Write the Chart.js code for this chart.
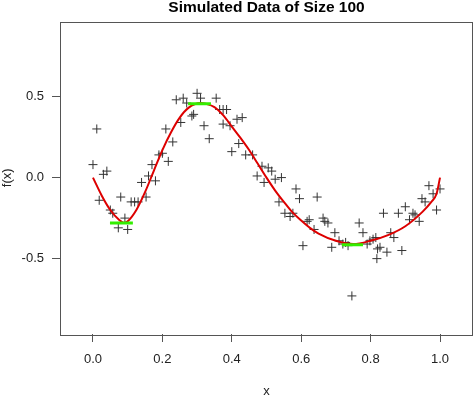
<!DOCTYPE html>
<html lang="en">

<head>
    <meta charset="UTF-8">
    <meta name="viewport" content="width=device-width, initial-scale=1.0">
    <script src="https://cdn.jsdelivr.net/npm/chart.js"></script>
    <title>Simulated Data of Size 100</title>
    <style>
        html, body { margin: 0; padding: 0; background: #fff; }
        #wrap { width: 474px; height: 395px; }
    </style>
    <script>
        // simulated sample
        let sample_x = [0.011, 0.00, 0.03, 0.04, 0.018, 0.05, 0.057, 0.08, 0.092, 0.073,
            0.10, 0.11, 0.12, 0.13, 0.153, 0.14, 0.16, 0.18, 0.17, 0.19,
            0.20, 0.217, 0.21, 0.24, 0.26, 0.27, 0.30, 0.31, 0.355, 0.285,
            0.29, 0.253, 0.23, 0.32, 0.335, 0.365, 0.375, 0.385, 0.375, 0.395,
            0.415, 0.43, 0.42, 0.40, 0.44, 0.46, 0.487, 0.505, 0.515, 0.473,
            0.493, 0.525, 0.543, 0.585, 0.595, 0.536, 0.553, 0.568, 0.576, 0.617,
            0.605, 0.646, 0.623, 0.637, 0.663, 0.668, 0.677, 0.688, 0.697, 0.709,
            0.72, 0.735, 0.767, 0.778, 0.79, 0.798, 0.807, 0.82, 0.818, 0.746,
            0.827, 0.847, 0.89, 0.858, 0.867, 0.837, 0.88, 0.90, 0.912, 0.922,
            0.928, 0.94, 0.948, 0.957, 0.968, 0.98, 1.00, 0.99, 0.728, 0.815];
        let sample_y = [0.30, 0.08, 0.02, 0.04, -0.14, -0.20, -0.22, -0.12, -0.25, -0.31,
            -0.32, -0.15, -0.15, -0.15, -0.12, -0.03, 0.01, -0.02, 0.08, 0.14,
            0.15, 0.10, 0.30, 0.48, 0.49, 0.46, 0.52, 0.49, 0.49, 0.38,
            0.39, 0.34, 0.22, 0.32, 0.24, 0.42, 0.42, 0.42, 0.33, 0.32,
            0.36, 0.37, 0.21, 0.16, 0.14, 0.14, 0.07, 0.06, 0.04, 0.01,
            -0.03, -0.01, 0.00, -0.07, -0.13, -0.15, -0.22, -0.24, -0.22, -0.27,
            -0.42, -0.12, -0.26, -0.32, -0.25, -0.27, -0.28, -0.43, -0.34, -0.39,
            -0.41, -0.42, -0.28, -0.34, -0.41, -0.39, -0.38, -0.44, -0.50, -0.73,
            -0.43, -0.46, -0.45, -0.34, -0.37, -0.22, -0.22, -0.18, -0.26, -0.22,
            -0.23, -0.27, -0.13, -0.15, -0.05, -0.10, -0.07, -0.20, -0.40, -0.37];

        // fitted curve (red)
        let fit_x = [0.00, 0.025, 0.05, 0.075, 0.09, 0.10, 0.125, 0.15, 0.175, 0.20,
            0.225, 0.25, 0.275, 0.31, 0.325, 0.35, 0.375, 0.40, 0.425, 0.45,
            0.475, 0.50, 0.525, 0.55, 0.575, 0.60, 0.625, 0.65, 0.70, 0.75,
            0.80, 0.85, 0.90, 0.95, 0.975, 0.99, 1.00];
        let fit_y = [0.00, -0.11, -0.20, -0.26, -0.28, -0.27, -0.20, -0.09, 0.04, 0.17,
            0.28, 0.37, 0.43, 0.46, 0.455, 0.435, 0.385, 0.315, 0.245, 0.17,
            0.085, 0.00, -0.08, -0.15, -0.215, -0.265, -0.31, -0.345, -0.39, -0.41,
            -0.39, -0.355, -0.30, -0.21, -0.15, -0.10, 0.00];

        // flat pieces at the extremes (green): [x start, x end, y]
        let ext_x0 = [0.049, 0.274, 0.717];
        let ext_x1 = [0.115, 0.340, 0.778];
        let ext_y = [-0.28, 0.455, -0.415];

        let x_ticks = [0.0, 0.2, 0.4, 0.6, 0.8, 1.0];
        let y_ticks = [-0.5, 0.0, 0.5];

        let font_family = "'Liberation Sans', Arial, Helvetica, sans-serif";

        // box round the plot region
        const boxPlugin = {
            id: 'plotBox',
            afterDraw(chart) {
                const a = chart.chartArea;
                const c = chart.ctx;
                c.save();
                c.strokeStyle = '#555';
                c.lineWidth = 1;
                c.strokeRect(Math.round(a.left) + 0.5, Math.round(a.top) + 0.5,
                    Math.round(a.right - a.left) - 1, Math.round(a.bottom - a.top));
                c.restore();
            }
        };

        function init() {
            let points = sample_x.map((v, i) => ({ x: v, y: sample_y[i] }));
            let curve = fit_x.map((v, i) => ({ x: v, y: fit_y[i] }));
            let datasets = [];
            for (let i = 0; i < ext_y.length; i++) {
                datasets.push({
                    type: 'line'
                    , data: [{ x: ext_x0[i], y: ext_y[i] }, { x: ext_x1[i], y: ext_y[i] }]
                    , borderColor: '#33ee00'
                    , borderWidth: 3
                    , pointRadius: 0
                    , order: 0
                });
            }
            datasets.push({
                type: 'line'
                , data: curve
                , borderColor: '#dd0000'
                , borderWidth: 2
                , pointRadius: 0
                , cubicInterpolationMode: 'monotone'
                , order: 1
            });
            datasets.push({
                type: 'scatter'
                , data: points
                , pointStyle: 'cross'
                , pointRadius: 4.5
                , borderColor: '#333'
                , borderWidth: 1
                , order: 2
            });

            let ctx = document.getElementById('myChart');
            new Chart(ctx, {
                type: 'scatter'
                , data: { datasets: datasets }
                , options: {
                    responsive: false
                    , animation: false
                    , layout: { autoPadding: false, padding: { top: 0, right: 1, bottom: 0, left: 0 } }
                    , plugins: {
                        legend: { display: false }
                        , tooltip: { enabled: false }
                        , title: {
                            display: true
                            , fullSize: false
                            , text: 'Simulated Data of Size 100'
                            , color: '#000'
                            , font: { family: font_family, size: 15.5, weight: 'bold', lineHeight: 1.0 }
                            , padding: { top: 0, bottom: 6 }
                        }
                    }
                    , scales: {
                        x: {
                            type: 'linear'
                            , min: -0.095
                            , max: 1.095
                            , afterBuildTicks: (s) => { s.ticks = x_ticks.map(v => ({ value: v })); }
                            , afterFit: (s) => { s.height = 61; s.paddingLeft = 0; s.paddingRight = 0; }
                            , grid: { drawOnChartArea: false, drawTicks: true, tickLength: 8, color: '#555' }
                            , border: { display: false }
                            , ticks: {
                                padding: 10
                                , color: '#222'
                                , font: { family: font_family, size: 13 }
                                , callback: (v) => v.toFixed(1)
                                , maxRotation: 0
                            }
                            , title: {
                                display: true
                                , text: 'x'
                                , color: '#222'
                                , font: { family: font_family, size: 13 }
                                , padding: { top: 0, bottom: -4 }
                            }
                        }
                        , y: {
                            type: 'linear'
                            , min: -0.965
                            , max: 0.963
                            , afterBuildTicks: (s) => { s.ticks = y_ticks.map(v => ({ value: v })); }
                            , afterFit: (s) => { s.width = 60; s.paddingTop = 0; s.paddingBottom = 0; }
                            , grid: { drawOnChartArea: false, drawTicks: true, tickLength: 8, color: '#555' }
                            , border: { display: false }
                            , ticks: {
                                padding: 8
                                , color: '#222'
                                , font: { family: font_family, size: 13 }
                                , callback: (v) => v.toFixed(1)
                            }
                            , title: {
                                display: true
                                , text: 'f(x)'
                                , color: '#222'
                                , font: { family: font_family, size: 13 }
                                , padding: 0
                            }
                        }
                    }
                }
                , plugins: [boxPlugin]
            });
        }

        window.addEventListener('load', init);
    </script>
</head>

<body>
    <div id="wrap">
        <canvas id="myChart" width="474" height="395"></canvas>
    </div>
</body>

</html>
